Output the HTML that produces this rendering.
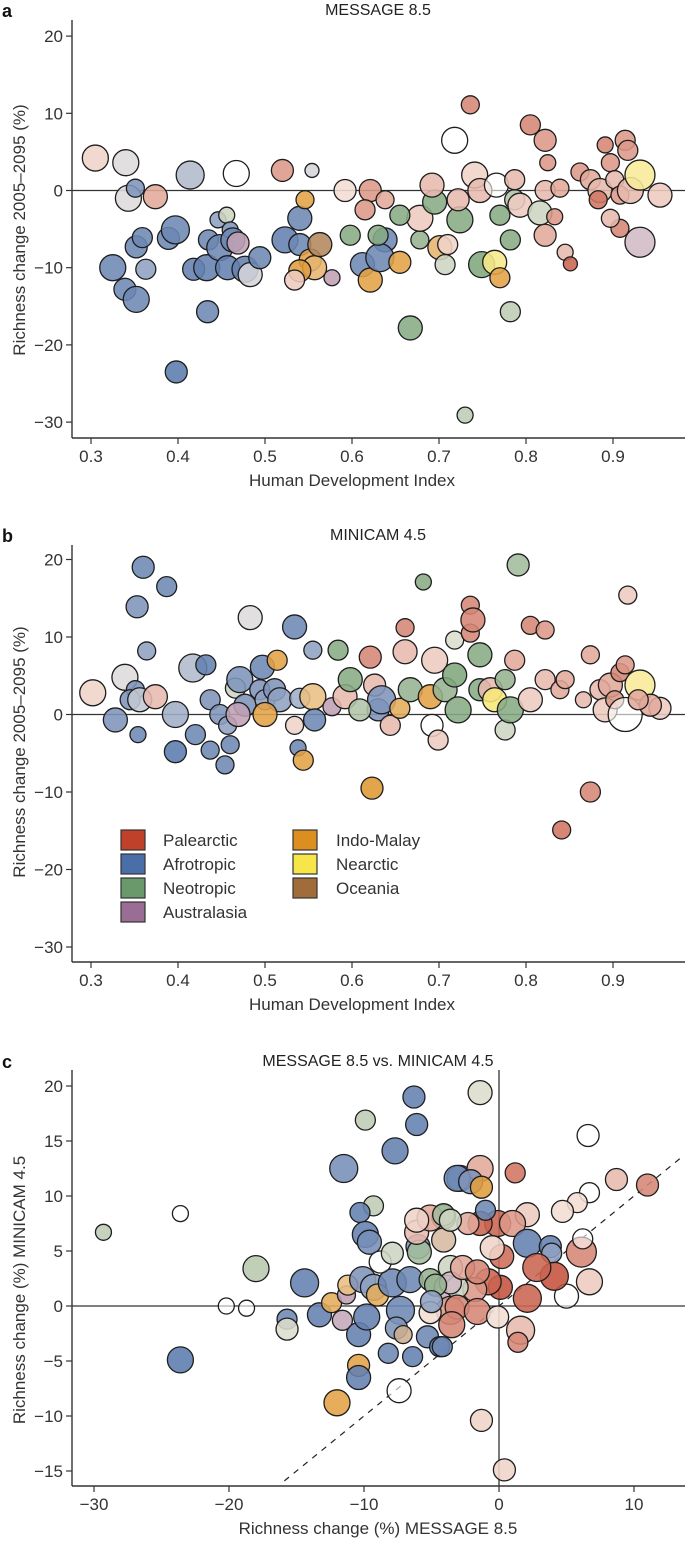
<!DOCTYPE html>
<html><head><meta charset="utf-8">
<style>
html,body{margin:0;padding:0;background:#fff;}
svg{display:block;font-family:"Liberation Sans",Arial,sans-serif;}
</style></head>
<body>
<svg id="fig" width="685" height="1543" viewBox="0 0 685 1543" xmlns="http://www.w3.org/2000/svg"></svg>
<script>
// ---------- DATA ----------
const regionNames = ["Palearctic","Afrotropic","Neotropic","Australasia","Indo-Malay","Nearctic","Oceania"];
const regionCodes = ["P","A","N","U","I","Y","O"];
const regionColors = {P:"#c0412a",A:"#4a6ea8",N:"#6a9a6b",U:"#9a6e94",I:"#dc8f1f",Y:"#f7e64a",O:"#a06d3a",W:"#ffffff"};

const xTicksHDI = [0.3,0.4,0.5,0.6,0.7,0.8,0.9];
const yTicksAB = [20,10,0,-10,-20,-30];
const xTicksC = [-30,-20,-10,0,10];
const yTicksC = [20,15,10,5,0,-5,-10,-15];

// panel a: [HDI, richness change, size, region, saturation]
const pointsA = [
[.305,4.2,13,"P",.15],[.340,3.6,13,"A",.15],[.343,-1.0,13,"A",.15],[.351,0.3,9,"A",.7],[.374,-0.8,12,"P",.4],
[.325,-10.0,13,"A",.8],[.339,-12.8,11,"A",.8],[.352,-14.1,13,"A",.8],[.352,-7.3,11,"A",.8],[.359,-6.1,10,"A",.8],
[.363,-10.2,10,"A",.6],[.389,-6.2,11,"A",.8],[.397,-5.1,14,"A",.8],[.398,-23.5,11,"A",.9],[.414,2.0,14,"A",.4],
[.467,2.2,13,"W",0],[.434,-15.7,11,"A",.8],[.418,-10.2,11,"A",.85],[.433,-10.0,13,"A",.85],[.435,-6.4,10,"A",.8],
[.448,-7.4,13,"A",.8],[.446,-3.8,8,"A",.6],[.456,-3.2,8,"N",.3],[.460,-5.1,8,"A",.7],[.463,-6.4,12,"A",.8],
[.469,-6.8,11,"U",.6],[.457,-10.0,12,"A",.85],[.477,-10.2,13,"A",.85],[.483,-10.9,12,"A",.2],[.494,-8.7,11,"A",.8],
[.520,2.6,11,"P",.5],[.540,-3.6,12,"A",.8],[.523,-6.4,13,"A",.85],[.540,-7.0,11,"A",.8],[.546,-1.2,9,"I",.8],
[.554,2.6,7,"A",.2],[.552,-9.0,11,"I",.8],[.557,-10.0,12,"I",.6],[.563,-7.0,12,"O",.8],[.540,-10.4,11,"I",.85],
[.534,-11.6,10,"P",.2],[.577,-11.3,8,"U",.6],[.598,-5.8,10,"N",.8],[.592,0,11,"P",.1],[.621,0,11,"P",.5],
[.615,-2.5,10,"P",.5],[.638,-1.2,9,"P",.4],[.612,-9.6,12,"A",.8],[.621,-11.6,12,"I",.8],[.638,-6.4,12,"A",.8],
[.632,-8.7,14,"A",.8],[.630,-5.8,10,"N",.8],[.655,-9.3,11,"I",.8],[.678,-6.4,9,"N",.7],[.678,-3.6,13,"P",.2],
[.667,-17.8,12,"N",.8],[.655,-3.2,10,"N",.8],[.695,-1.5,12,"N",.8],[.692,0.7,12,"P",.3],[.718,6.5,13,"W",0],
[.701,-7.4,12,"I",.6],[.710,-7.0,10,"P",.15],[.707,-9.6,10,"N",.3],[.724,-3.8,13,"N",.8],[.722,-1.2,11,"P",.3],
[.736,11.1,9,"P",.6],[.730,-29.1,8,"N",.4],[.741,2.0,13,"P",.15],[.747,0,12,"P",.3],[.749,-9.6,13,"N",.85],
[.764,-9.3,12,"Y",.6],[.770,-11.3,10,"I",.8],[.766,0.7,12,"W",0],[.770,-3.2,10,"N",.8],[.782,-6.4,10,"N",.8],
[.782,-15.7,10,"N",.4],[.787,-1.2,10,"N",.5],[.793,-1.9,12,"P",.2],[.787,1.4,10,"P",.3],[.805,8.5,10,"P",.6],
[.816,-2.9,12,"N",.3],[.822,6.5,11,"P",.5],[.825,3.6,8,"P",.5],[.822,0,10,"P",.3],[.822,-5.8,11,"P",.4],
[.833,-3.4,8,"P",.5],[.839,0.3,9,"P",.4],[.845,-8.0,8,"P",.3],[.851,-9.5,7,"P",.8],[.862,2.4,9,"P",.5],
[.874,1.4,10,"P",.4],[.885,0,12,"P",.3],[.891,5.9,8,"P",.6],[.897,3.6,9,"P",.5],[.902,1.4,9,"P",.3],
[.908,-0.6,9,"P",.5],[.914,6.5,10,"P",.5],[.917,5.2,10,"P",.5],[.920,0,13,"P",.3],[.931,2.0,15,"Y",.5],
[.931,-6.7,15,"U",.4],[.908,-4.9,9,"P",.6],[.897,-3.6,9,"P",.3],[.954,-0.6,12,"P",.2],[.883,-1.2,9,"P",.7]
];

// panel b
const pointsB = [
[.302,2.8,13,"P",.15],[.328,-0.7,12,"A",.7],[.339,4.8,13,"A",.15],[.351,3.2,9,"A",.7],[.345,1.9,10,"A",.7],
[.356,1.9,12,"A",.3],[.354,-2.6,8,"A",.8],[.360,19.0,11,"A",.8],[.353,13.9,11,"A",.7],[.364,8.2,9,"A",.6],
[.387,16.5,10,"A",.8],[.374,2.3,12,"P",.3],[.397,0,13,"A",.5],[.397,-4.8,11,"A",.9],[.417,6.0,14,"A",.4],
[.432,6.4,10,"A",.85],[.437,1.9,10,"A",.7],[.448,0,10,"A",.7],[.420,-2.6,10,"A",.8],[.437,-4.6,9,"A",.8],
[.454,-6.5,9,"A",.8],[.460,-3.9,9,"A",.8],[.457,-1.4,9,"A",.6],[.466,3.4,10,"N",.3],[.471,4.5,13,"A",.7],
[.477,1.2,11,"A",.7],[.469,0,12,"U",.6],[.483,12.5,12,"A",.15],[.497,6.1,12,"A",.8],[.494,3.2,10,"A",.7],
[.500,1.9,10,"A",.6],[.511,3.2,11,"A",.7],[.517,1.9,12,"A",.6],[.500,0,12,"I",.8],[.514,7.0,10,"I",.8],
[.534,11.3,12,"A",.8],[.540,2.1,10,"A",.5],[.534,-1.4,9,"P",.15],[.538,-4.3,8,"A",.8],[.544,-5.9,10,"I",.8],
[.555,2.3,13,"I",.5],[.557,-0.7,11,"A",.8],[.555,8.3,9,"A",.6],[.577,1.0,9,"U",.6],[.584,8.3,10,"N",.8],
[.592,2.3,12,"P",.3],[.598,4.5,12,"N",.8],[.621,7.4,11,"P",.6],[.626,3.8,11,"P",.3],[.623,-9.5,11,"I",.9],
[.630,0.6,11,"A",.7],[.634,1.9,14,"A",.7],[.609,0.6,11,"N",.5],[.644,-1.4,10,"P",.3],[.661,8.1,12,"P",.3],
[.661,11.2,9,"P",.6],[.655,0.8,10,"I",.7],[.667,3.2,12,"N",.7],[.682,17.1,8,"N",.8],[.690,2.3,12,"I",.8],
[.695,7.0,13,"P",.2],[.692,-1.4,11,"W",0],[.699,-3.3,10,"P",.2],[.707,3.2,12,"N",.7],[.718,5.1,12,"N",.85],
[.718,9.6,9,"N",.2],[.722,0.6,13,"N",.8],[.736,10.5,9,"P",.6],[.736,14.1,9,"P",.6],[.739,12.2,12,"P",.6],
[.747,7.7,12,"N",.8],[.747,3.2,11,"N",.8],[.759,3.2,12,"P",.3],[.764,1.9,12,"Y",.7],[.776,4.5,10,"N",.7],
[.776,-2.0,10,"N",.3],[.782,0.6,13,"N",.8],[.791,19.3,11,"N",.6],[.787,7.0,10,"P",.4],[.805,11.5,9,"P",.6],
[.805,1.9,12,"P",.2],[.822,10.9,9,"P",.5],[.822,4.5,10,"P",.3],[.839,3.2,9,"P",.4],[.845,4.5,9,"P",.4],
[.841,-14.9,9,"P",.7],[.874,-10.0,10,"P",.6],[.874,7.7,9,"P",.4],[.885,3.2,10,"P",.3],[.891,0.6,12,"P",.2],
[.897,3.8,12,"P",.4],[.902,1.9,9,"P",.5],[.908,5.4,9,"P",.6],[.914,6.4,9,"P",.5],[.917,15.4,9,"P",.2],
[.931,3.8,15,"Y",.5],[.914,0,17,"W",0],[.954,0.8,11,"P",.2],[.943,1.2,11,"P",.4],[.929,1.9,10,"P",.4],
[.866,1.9,8,"P",.3]
];

// panel c: [MESSAGE 8.5 change, MINICAM 4.5 change, size, region, saturation]
const pointsC = [
[-29.3,6.7,8,"N",.4],[-23.6,8.4,8,"W",0],[-23.6,-4.9,13,"A",.9],[-18.0,3.4,13,"N",.45],[-20.2,0,8,"W",0],
[-18.7,-0.2,8,"W",0],[-6.3,19.0,11,"A",.85],[-9.9,16.9,10,"N",.4],[-6.1,16.5,11,"A",.85],[-7.7,14.1,13,"A",.85],
[-11.5,12.5,14,"A",.75],[-2.9,11.6,13,"A",.75],[-9.3,9.1,10,"N",.4],[-10.3,8.5,10,"A",.85],[-9.9,6.5,13,"A",.85],
[-9.6,5.8,12,"A",.75],[-14.4,2.1,14,"A",.85],[-15.7,-1.2,10,"A",.8],[-15.7,-2.1,11,"N",.2],[-13.3,-0.8,12,"A",.85],
[-12.4,0.3,10,"I",.7],[-11.3,1.0,9,"U",.6],[-11.2,1.9,10,"I",.5],[-11.6,-1.3,10,"U",.55],[-10.4,-2.6,12,"A",.85],
[-10.1,2.4,13,"A",.7],[-9.3,1.7,13,"A",.6],[-9.0,1.0,11,"I",.7],[-9.8,-1.0,13,"A",.85],[-7.9,2.1,14,"A",.8],
[-7.3,-0.4,14,"A",.8],[-6.6,2.4,13,"A",.8],[-6.0,5.4,12,"A",.7],[-5.9,4.9,12,"N",.6],[-6.1,6.7,12,"P",.3],
[-7.6,-2.0,11,"A",.7],[-7.1,-2.6,9,"O",.5],[-8.2,-4.3,10,"A",.8],[-6.4,-4.6,10,"A",.85],[-5.3,-2.8,11,"A",.8],
[-4.4,-3.7,10,"A",.85],[-10.4,-5.4,11,"I",.8],[-10.4,-6.5,12,"A",.85],[-7.4,-7.7,12,"W",0],[-12.0,-8.8,13,"I",.8],
[-8.8,4.0,11,"W",0],[-7.9,4.8,11,"N",.3],[-5.1,2.4,11,"N",.7],[-4.1,8.1,12,"N",.6],[-5.1,8.0,13,"P",.4],
[-6.1,7.8,12,"P",.15],[-4.1,6.0,12,"O",.4],[-3.6,3.5,12,"N",.3],[-3.9,1.7,12,"U",.5],[-3.6,-0.4,14,"P",.5],
[-5.1,-0.6,11,"P",.1],[-1.4,19.4,12,"N",.2],[6.6,15.5,11,"W",0],[1.2,12.1,10,"P",.7],[-1.4,12.5,13,"P",.4],
[-3.1,11.6,13,"A",.8],[-2.1,11.3,12,"A",.7],[-1.3,10.8,11,"I",.85],[8.7,11.5,11,"P",.3],[11.0,11.0,11,"P",.6],
[6.7,10.3,10,"W",0],[5.8,9.4,10,"P",.1],[4.7,8.6,11,"P",.1],[2.1,8.3,12,"P",.2],[-0.1,7.5,13,"P",.8],
[-1.4,7.5,12,"P",.8],[-2.3,7.5,11,"P",.4],[1.0,7.5,13,"P",.5],[-4.1,8.3,11,"N",.6],[-3.6,7.8,11,"N",.3],
[-1.0,8.7,10,"A",.8],[2.1,5.7,14,"A",.85],[3.8,5.4,11,"A",.85],[3.9,4.8,10,"A",.6],[6.1,4.9,15,"P",.6],
[6.2,6.1,10,"W",0],[6.7,2.2,13,"P",.2],[5.0,0.9,12,"W",0],[4.1,2.7,14,"P",.9],[2.8,3.5,14,"P",.8],
[0.2,4.5,12,"P",.75],[-0.5,5.3,12,"P",.15],[2.1,0.7,14,"P",.8],[0.1,1.7,12,"P",.9],[-0.8,2.2,13,"P",.8],
[-1.8,1.5,12,"P",.5],[-3.1,1.7,11,"N",.3],[-3.6,2.1,11,"U",.4],[-4.7,1.9,11,"N",.7],[-5.0,0.4,11,"A",.6],
[-3.1,-0.1,12,"P",.6],[-1.6,-0.5,13,"P",.6],[-0.1,-1.0,11,"P",.1],[-3.5,-1.7,13,"P",.6],[1.6,-2.2,14,"P",.3],
[1.4,-3.3,10,"P",.6],[-4.2,-3.7,10,"A",.8],[-1.3,-10.4,11,"P",.15],[0.4,-14.9,11,"P",.15],[-2.7,3.5,12,"P",.4],
[-1.6,3.1,12,"P",.6]
];

// ---------- RENDER ----------
const NS="http://www.w3.org/2000/svg";
const svg=document.getElementById("fig");
function el(tag,attrs,parent){const e=document.createElementNS(NS,tag);for(const k in attrs)e.setAttribute(k,attrs[k]);(parent||svg).appendChild(e);return e;}
// light tints blend toward a warm off-white like the reference
function mix(hex,a){const r=parseInt(hex.substr(1,2),16),g=parseInt(hex.substr(3,2),16),b=parseInt(hex.substr(5,2),16);
 const base=[248,238,230];
 const m=(c,i)=>Math.round(base[i]+(c-base[i])*a);return `rgb(${m(r,0)},${m(g,1)},${m(b,2)})`;}
const AX="#333";

function panel(cfg){
 const g=el("g",{});
 
 
 const sx=v=>cfg.x0+(v-cfg.xv0)*cfg.kx;
 const sy=v=>cfg.y0-(v-cfg.yv0)*cfg.ky;
 const hz=el("line",{x1:cfg.left,x2:685,y1:sy(0),y2:sy(0),stroke:AX,"stroke-width":1.3},g);
 
 
 if(cfg.vzero){const vz=el("line",{x1:sx(0),x2:sx(0),y1:cfg.top,y2:cfg.bottom,stroke:AX,"stroke-width":1.3},g);
  
  }
 if(cfg.diag){const d=el("line",{x1:sx(cfg.diag[0]),y1:sy(cfg.diag[0]),x2:sx(cfg.diag[1]),y2:sy(cfg.diag[1]),stroke:"#222","stroke-width":1.2,"stroke-dasharray":"6,6"},g);
  
  }
 cfg.points.forEach(p=>{
  const c=el("circle",{cx:sx(p[0]),cy:sy(p[1]),r:p[2],fill:p[3]==="W"?"#fff":mix(regionColors[p[3]],p[4]),"fill-opacity":p[3]==="W"?0.6:0.88,stroke:"#1e1e1e","stroke-width":1.3},g);
  
  
 });
 const ya=el("line",{x1:cfg.left,x2:cfg.left,y1:cfg.top,y2:cfg.bottom,stroke:AX,"stroke-width":1.4},g);
 
 
 const xa=el("line",{x1:cfg.left,x2:685,y1:cfg.bottom,y2:cfg.bottom,stroke:AX,"stroke-width":1.4},g);
 
 
 cfg.yt.forEach(v=>{
  el("line",{x1:cfg.left-6,x2:cfg.left,y1:sy(v),y2:sy(v),stroke:AX,"stroke-width":1.2},g);
  const t=el("text",{x:cfg.left-9,y:sy(v)+6,"text-anchor":"end","font-size":17,fill:"#333"},g);
  t.textContent=(v<0?"\u2212"+(-v):String(v));
  
  
 });
 cfg.xt.forEach(v=>{
  el("line",{x1:sx(v),x2:sx(v),y1:cfg.bottom,y2:cfg.bottom+6,stroke:AX,"stroke-width":1.2},g);
  const t=el("text",{x:sx(v),y:cfg.bottom+24,"text-anchor":"middle","font-size":17,fill:"#333"},g);
  t.textContent=(v<0?"\u2212"+(-v):(cfg.fmt?v.toFixed(1):String(v)));
  
  
 });
 const xt=el("text",{x:cfg.xTitleX,y:cfg.bottom+48,"text-anchor":"middle","font-size":17,fill:"#333"},g);
 xt.textContent=cfg.xTitle;
 
 
 const yt=el("text",{x:0,y:0,transform:`translate(25,${cfg.yTitleY}) rotate(-90)`,"text-anchor":"middle","font-size":17,fill:"#333"},g);
 yt.textContent=cfg.yTitle;
 
 
 const tt=el("text",{x:cfg.titleX,y:cfg.titleY,"text-anchor":"middle","font-size":16,fill:"#222"},g);
 tt.textContent=cfg.title;
 
 
 const pl=el("text",{x:2,y:cfg.titleY+2,"font-size":18,"font-weight":"bold",fill:"#111"},g);
 pl.textContent=cfg.letter;
 
 
 return g;
}

panel({name:"panel-a-message-85",points:pointsA,x0:91,xv0:0.3,kx:870,y0:190.5,yv0:0,ky:7.72,left:72,top:20,bottom:438,
 xt:xTicksHDI,yt:yTicksAB,fmt:true,xTitle:"Human Development Index",xTitleX:352,yTitle:"Richness change 2005\u20132095 (%)",yTitleY:230,
 title:"MESSAGE 8.5",titleX:378,titleY:15,letter:"a"});
panel({name:"panel-b-minicam-45",points:pointsB,x0:91,xv0:0.3,kx:870,y0:714.5,yv0:0,ky:7.75,left:72,top:545,bottom:962,
 xt:xTicksHDI,yt:yTicksAB,fmt:true,xTitle:"Human Development Index",xTitleX:352,yTitle:"Richness change 2005\u20132095 (%)",yTitleY:752,
 title:"MINICAM 4.5",titleX:378,titleY:540,letter:"b"});
panel({name:"panel-c-scenario-comparison",points:pointsC,x0:499,xv0:0,kx:13.5,y0:1306,yv0:0,ky:11,left:72,top:1070,bottom:1486,
 xt:xTicksC,yt:yTicksC,fmt:false,xTitle:"Richness change (%) MESSAGE 8.5",xTitleX:378,yTitle:"Richness change (%) MINICAM 4.5",yTitleY:1290,
 title:"MESSAGE 8.5 vs. MINICAM 4.5",titleX:378,titleY:1066,letter:"c",vzero:true,diag:[-15.9,13.6]});

const lg=el("g",{});


regionCodes.forEach((c,i)=>{
 const col=i<4?0:1,row=i<4?i:i-4;
 const x=col?293:121,y=830+row*24;
 const s=el("rect",{x:x,y:y,width:24,height:20,fill:regionColors[c],stroke:"#333","stroke-width":1.2},lg);
 
 
 const t=el("text",{x:col?336:163,y:y+16,"font-size":17,fill:"#333"},lg);
 t.textContent=regionNames[i];
 
 
});
</script>
</body></html>
